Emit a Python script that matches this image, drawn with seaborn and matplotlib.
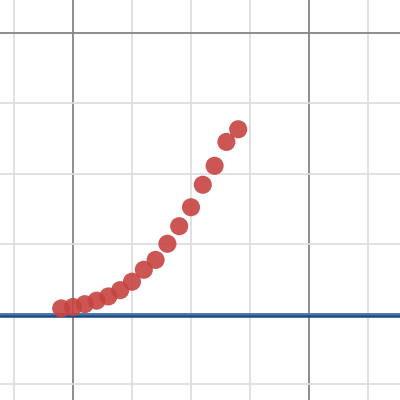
import seaborn as sns
import pandas as pd
import matplotlib
matplotlib.use("Agg")
import matplotlib.pyplot as plt
from matplotlib.ticker import MultipleLocator

# data (grid units)
x_vals = [-0.2, 0.0, 0.2, 0.4, 0.6, 0.8, 1.0, 1.2, 1.4, 1.6, 1.8, 2.0, 2.2, 2.4, 2.6, 2.8]
y_vals = [0.08, 0.10, 0.14, 0.19, 0.25, 0.34, 0.46, 0.63, 0.77, 1.00, 1.25, 1.52, 1.84, 2.11, 2.45, 2.63]
line_y = 0.0

df = pd.DataFrame({"x": x_vals, "y": y_vals})

sns.set_style("white")
fig = plt.figure(figsize=(4, 4), dpi=100)
ax = fig.add_axes([0, 0, 1, 1])

# grid like a graphing calculator: light every unit, dark every 4
ax.xaxis.set_major_locator(MultipleLocator(4))
ax.yaxis.set_major_locator(MultipleLocator(4))
ax.xaxis.set_minor_locator(MultipleLocator(1))
ax.yaxis.set_minor_locator(MultipleLocator(1))
ax.grid(which="minor", color="#dcdcdc", linewidth=1.2)
ax.grid(which="major", color="#858585", linewidth=1.3)
ax.set_axisbelow(True)
ax.tick_params(which="both", length=0, labelbottom=False, labelleft=False)
for s in ax.spines.values():
    s.set_visible(False)

# horizontal line (two-tone blue)
ax.axhline(line_y + 0.007, color="#4277b3", linewidth=1.8, zorder=2)
ax.axhline(line_y - 0.026, color="#1d4a7c", linewidth=1.8, zorder=2)

sns.scatterplot(data=df, x="x", y="y", ax=ax, color="#c74440", alpha=0.9,
                s=170, edgecolor="none", zorder=3, legend=False)

ax.set_xlim(-1.237, 5.542)
ax.set_ylim(-1.224, 4.470)
ax.set_xlabel("")
ax.set_ylabel("")

fig.savefig("out.png", dpi=100)
